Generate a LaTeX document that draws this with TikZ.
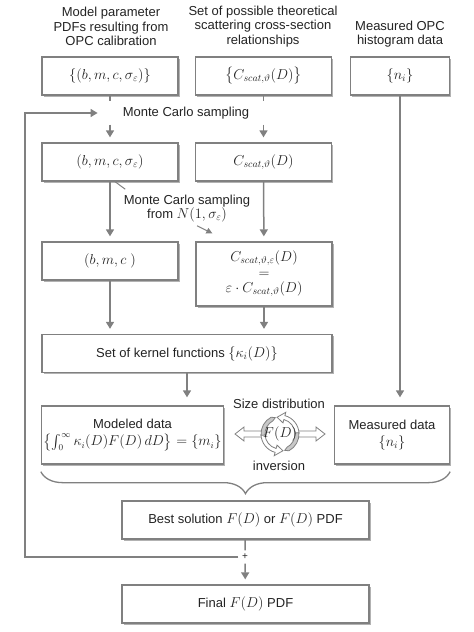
\documentclass[tikz,border=0pt]{standalone}
\usepackage{amsmath}
\usepackage[no-math]{fontspec}
\setmainfont{Liberation Sans}
\usepackage{tikz}
\usetikzlibrary{arrows.meta, shadows, decorations.pathreplacing}

\definecolor{linegray}{RGB}{128,128,128}
\definecolor{bandgray}{RGB}{200,200,200}
\definecolor{textgray}{RGB}{35,35,35}
\newcommand{\fm}[1]{{\fontsize{14.5bp}{16bp}\selectfont$#1$}}

\begin{document}
\begin{tikzpicture}[x=1bp,y=-1bp,>={Triangle[width=8bp,length=7bp]},
  font=\fontsize{13bp}{14.5bp}\selectfont,
  box/.style={draw=linegray, line width=1.3bp, fill=white, text=textgray, align=center,
    minimum height=38bp, inner sep=2bp,
    drop shadow={shadow xshift=1.6bp, shadow yshift=-1.6bp, fill=black, opacity=0.3}},
  link/.style={draw=linegray, line width=1.5bp},
  note/.style={text=textgray, align=center}]
\useasboundingbox (0,0) rectangle (474,632);

% sources
\node[note] (h1) at (111,26.5) {Model parameter\\PDFs resulting from\\OPC calibration};
\node[note] (h2) at (263,26.5) {Set of possible theoretical\\scattering cross-section\\relationships};
\node[note] (h3) at (400,34) {Measured OPC\\histogram data};

\node[box, minimum width=136bp] (pset) at (110,76) {\fm{\{(b,m,c,\sigma_\varepsilon)\}}};
\node[box, minimum width=136bp] (cset) at (263.5,76) {\fm{\bigl\{C_{scat,\vartheta}(D)\bigr\}}};
\node[box, minimum width=99bp] (nset) at (400,76) {\fm{\{n_i\}}};

\node[note, minimum height=23bp, inner sep=0pt] (mc1) at (186,113) {Monte Carlo sampling};

\node[box, minimum width=136bp] (psamp) at (110,162) {\fm{(b,m,c,\sigma_\varepsilon)}};
\node[box, minimum width=136bp] (csamp) at (263.5,162) {\fm{C_{scat,\vartheta}(D)}};
\node[note] (mc2) at (187,208.5) {Monte Carlo sampling\\from \fm{N(1,\sigma_\varepsilon)}};

\node[box, minimum width=136bp] (pfix) at (110,261) {\fm{(b,m,c\;)}};
\node[box, minimum width=136bp, minimum height=64bp] (cpert) at (264,274)
  {\fm{C_{scat,\vartheta,\varepsilon}(D)}\\[1bp]\fm{=}\\[1bp]\fm{\varepsilon\cdot C_{scat,\vartheta}(D)}};

\node[box, minimum width=290bp] (kern) at (187,353.5) {Set of kernel functions \fm{\{\kappa_i(D)\}}};

\node[box, minimum width=181bp, minimum height=58bp] (model) at (132.5,435)
  {Modeled data\\[3bp]{\fontsize{13.5bp}{15bp}\selectfont$\bigl\{\int_0^\infty \kappa_i(D)F(D)\,dD\bigr\} = \{m_i\}$}};
\node[box, minimum width=115bp, minimum height=58bp] (meas) at (392,435) {Measured data\\[3bp]\fm{\{n_i\}}};
\node[note] (sizedist) at (279,404) {Size distribution};
\node[note] (inv) at (279,466) {inversion};

\node[box, minimum width=247bp] (best) at (245.5,520) {Best solution \fm{F(D)} or \fm{F(D)} PDF};
\node[note, minimum size=13bp, inner sep=0pt, font=\fontsize{10bp}{10bp}\selectfont] (plus) at (245,557) {+};
\node[box, minimum width=247bp] (final) at (245.5,604) {Final \fm{F(D)} PDF};

% inversion symbol
\coordinate (cyc) at (280,434);
\begin{scope}[shift={(cyc)}, yscale=-1, draw=linegray, line width=0.8bp]
\draw[fill=white] (-45,0) -- (-36,7) -- (-36,3) -- (36,3) -- (36,7) -- (45,0)
  -- (36,-7) -- (36,-3) -- (-36,-3) -- (-36,-7) -- cycle;
\fill[white] (0,0) circle (16);
\draw[fill=white] (2:19) arc[start angle=2, end angle=75, radius=19] -- (75:22.5) -- (100:17)
  -- (75:11.5) -- (75:15) arc[start angle=75, end angle=2, radius=15] -- cycle;
\draw[fill=white, rotate=180] (2:19) arc[start angle=2, end angle=75, radius=19] -- (75:22.5) -- (100:17)
  -- (75:11.5) -- (75:15) arc[start angle=75, end angle=2, radius=15] -- cycle;
\draw[fill=bandgray] (106:17) -- (118:19) arc[start angle=118, end angle=184, radius=19]
  -- (184:15) arc[start angle=184, end angle=118, radius=15] -- cycle;
\draw[fill=bandgray, rotate=180] (106:17) -- (118:19) arc[start angle=118, end angle=184, radius=19]
  -- (184:15) arc[start angle=184, end angle=118, radius=15] -- cycle;
\end{scope}
\node[text=textgray, inner sep=0pt] (fd) at (cyc) {\fm{F(D)}};

% connectors
\draw[link] (pset) -- (pset |- mc1.north);
\draw[link] (cset) -- (cset |- mc1.north);
\draw[link,->,shorten >=5bp] (pset |- mc1.south) -- (psamp);
\draw[link,->,shorten >=5bp] (cset |- mc1.south) -- (csamp);
\draw[link,->,shorten >=5bp] (psamp) -- (pfix);
\draw[link,->,shorten >=5bp] (csamp) -- (cpert);
\draw[link, line width=1bp] ([xshift=5bp]psamp.south) -- ([xshift=5bp,yshift=2bp]mc2.north west);
\draw[link, line width=1bp, -{Triangle[width=6bp,length=6bp]}] ([xshift=10bp]mc2.south)
  -- ([xshift=17bp,yshift=8bp]cpert.north west);
\draw[link,->,shorten >=5bp] (pfix) -- (pfix |- kern.north);
\draw[link,->,shorten >=5bp] (cpert) -- (cpert |- kern.north);
\draw[link,->,shorten >=8bp] (kern) -- (kern |- model.north);
\draw[link,->,shorten >=8bp] (nset) -- (nset |- meas.north);
\draw[link, line width=1.3bp, decorate, decoration={brace, mirror, amplitude=22bp}]
  ([yshift=-7bp]model.south west) -- ([yshift=-7bp]meas.south east);
\draw[link] (best) -- (plus);
\draw[link,->,shorten >=5bp] (plus) -- (final);
\coordinate (back) at (25,113);
\draw[link,->,shorten >=25bp] (plus.west) -| (back) -- (mc1.west);

\end{tikzpicture}
\end{document}
